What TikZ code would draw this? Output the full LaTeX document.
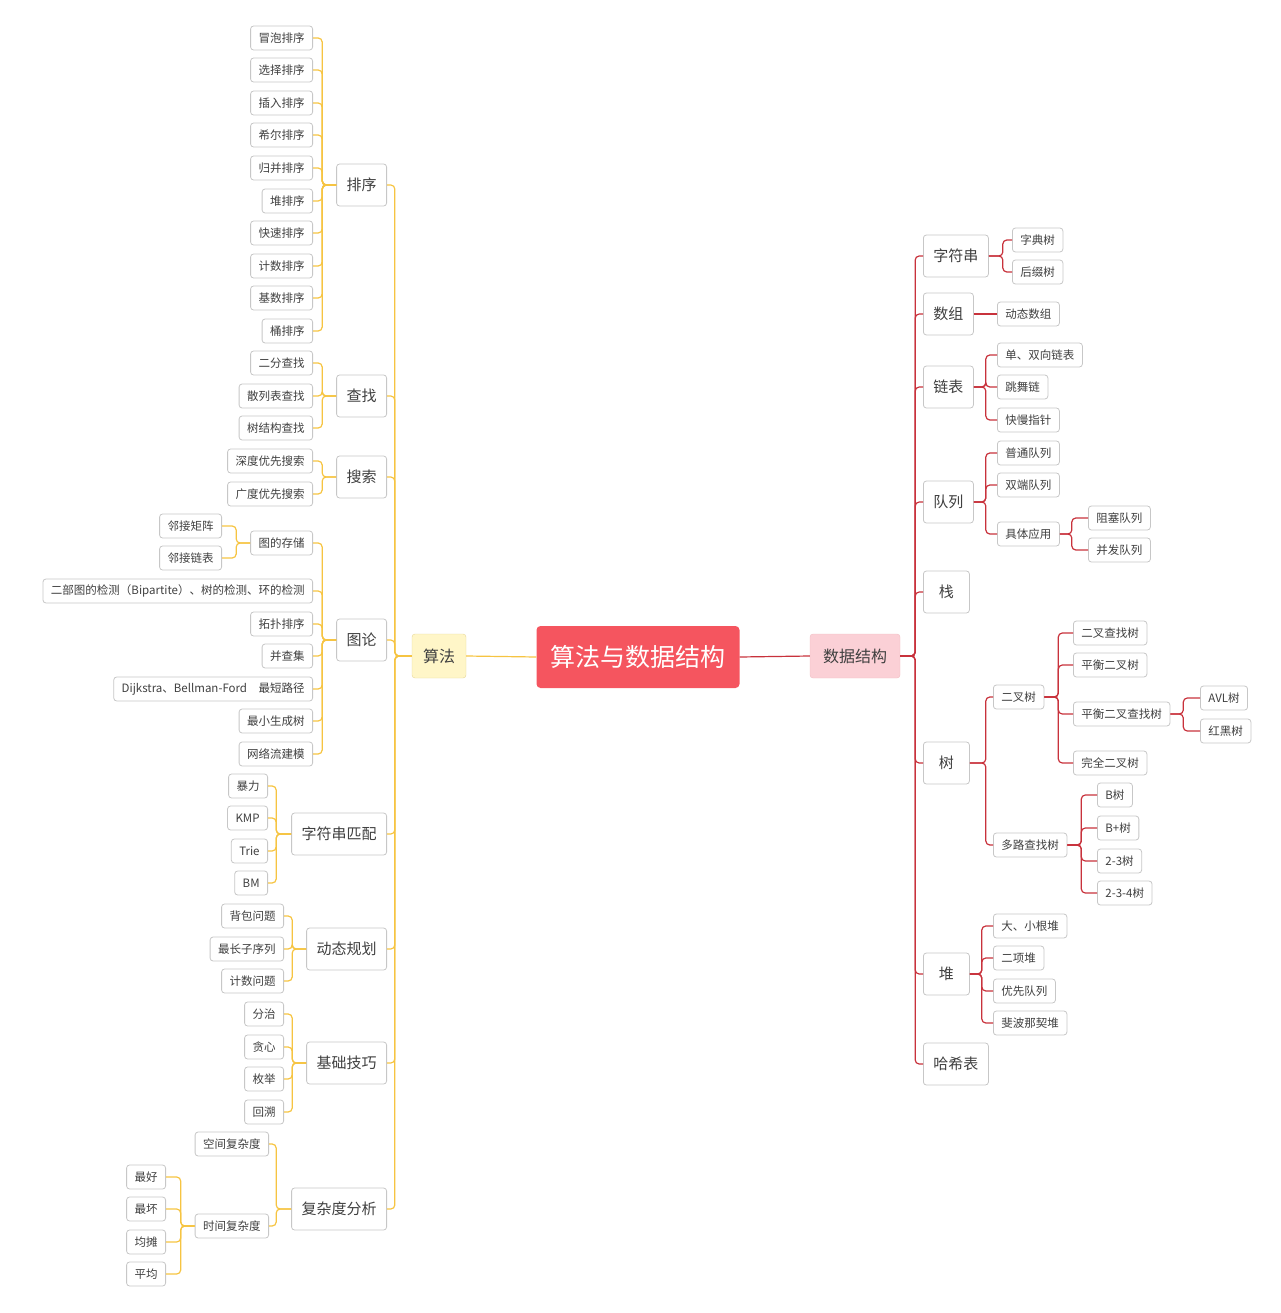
\documentclass[tikz,border=0pt]{standalone}
\usepackage{fontspec}
\setmainfont{Noto Sans CJK SC}
\begin{document}
\begin{tikzpicture}[x=1pt,y=-1pt,
  leaf/.style={draw=black!22,fill=white,rounded corners=3pt,line width=0.8pt,font=\fontsize{11.5}{12}\selectfont,text=black!75,inner xsep=8pt,inner ysep=0pt,minimum height=24pt},
  lone/.style={draw=black!22,fill=white,rounded corners=3pt,line width=0.8pt,font=\fontsize{15}{16}\selectfont,text=black!75,inner xsep=10pt,inner ysep=0pt,minimum height=42pt,minimum width=46pt},
  yl/.style={draw={rgb,255:red,246;green,196;blue,66},line width=1.2pt,rounded corners=4pt},
  rd/.style={draw={rgb,255:red,200;green,50;blue,60},line width=1.2pt,rounded corners=4pt}]
\useasboundingbox (0,0) rectangle (1280,1313);
% center
\node[fill={rgb,255:red,245;green,85;blue,95},rounded corners=4pt,text=white,font=\fontsize{25}{26}\selectfont,minimum width=203pt,minimum height=62pt] (root) at (638,657) {算法与数据结构};
\node[draw={rgb,255:red,230;green,215;blue,150},fill={rgb,255:red,255;green,246;blue,200},rounded corners=3pt,font=\fontsize{16}{17}\selectfont,text=black!75,minimum width=54pt,minimum height=44pt] (alg) at (439,656) {算法};
\node[draw={rgb,255:red,240;green,190;blue,195},fill={rgb,255:red,251;green,208;blue,214},rounded corners=3pt,font=\fontsize{16}{17}\selectfont,text=black!75,minimum width=90pt,minimum height=44pt] (ds) at (855,656) {数据结构};
\draw[yl] (alg.east) -- (root.west);
\draw[rd] (root.east) -- (ds.west);
% left level 1
\node[lone,anchor=east] (px) at (387,185) {排序};
\node[lone,anchor=east] (cz) at (387,396) {查找};
\node[lone,anchor=east] (ss) at (387,477) {搜索};
\node[lone,anchor=east] (tl) at (387,640) {图论};
\node[lone,anchor=east] (zf) at (387,834) {字符串匹配};
\node[lone,anchor=east] (dt) at (387,949) {动态规划};
\node[lone,anchor=east] (jc) at (387,1063) {基础技巧};
\node[lone,anchor=east] (fz) at (387,1209) {复杂度分析};
\foreach \c in {px,cz,ss,tl,zf,dt,jc,fz} \draw[yl] (alg.west) -- ++(-17,0) |- (\c.east);
% 排序
\foreach \n/\y/\t in {a1/38/冒泡排序,a2/70/选择排序,a3/103/插入排序,a4/135/希尔排序,a5/168/归并排序,a6/201/堆排序,a7/233/快速排序,a8/266/计数排序,a9/298/基数排序,a10/331/桶排序}
  {\node[leaf,anchor=east] (\n) at (313,\y) {\t}; \draw[yl] (px.west) -- ++(-14,0) |- (\n.east);}
\foreach \n/\y/\t in {b1/363/二分查找,b2/396/散列表查找,b3/428/树结构查找}
  {\node[leaf,anchor=east] (\n) at (313,\y) {\t}; \draw[yl] (cz.west) -- ++(-14,0) |- (\n.east);}
\foreach \n/\y/\t in {c1/461/深度优先搜索,c2/494/广度优先搜索}
  {\node[leaf,anchor=east] (\n) at (313,\y) {\t}; \draw[yl] (ss.west) -- ++(-14,0) |- (\n.east);}
\foreach \n/\y/\t in {d1/543/图的存储,d2/591/二部图的检测（Bipartite）、树的检测、环的检测,d3/624/拓扑排序,d4/656/并查集,d5/689/Dijkstra、Bellman-Ford\quad 最短路径,d6/721/最小生成树,d7/754/网络流建模}
  {\node[leaf,anchor=east] (\n) at (313,\y) {\t}; \draw[yl] (tl.west) -- ++(-14,0) |- (\n.east);}
\foreach \n/\y/\t in {e1/526/邻接矩阵,e2/558/邻接链表}
  {\node[leaf,anchor=east] (\n) at (222,\y) {\t}; \draw[yl] (d1.west) -- ++(-14,0) |- (\n.east);}
\foreach \n/\y/\t in {f1/786/暴力,f2/818/KMP,f3/851/Trie,f4/883/BM}
  {\node[leaf,anchor=east] (\n) at (268,\y) {\t}; \draw[yl] (zf.west) -- ++(-15,0) |- (\n.east);}
\foreach \n/\y/\t in {g1/916/背包问题,g2/949/最长子序列,g3/981/计数问题}
  {\node[leaf,anchor=east] (\n) at (284,\y) {\t}; \draw[yl] (dt.west) -- ++(-14,0) |- (\n.east);}
\foreach \n/\y/\t in {h1/1014/分治,h2/1047/贪心,h3/1079/枚举,h4/1112/回溯}
  {\node[leaf,anchor=east] (\n) at (284,\y) {\t}; \draw[yl] (jc.west) -- ++(-14,0) |- (\n.east);}
\foreach \n/\y/\t in {i1/1144/空间复杂度,i2/1226/时间复杂度}
  {\node[leaf,anchor=east] (\n) at (269,\y) {\t}; \draw[yl] (fz.west) -- ++(-15,0) |- (\n.east);}
\foreach \n/\y/\t in {j1/1177/最好,j2/1209/最坏,j3/1242/均摊,j4/1274/平均}
  {\node[leaf,anchor=east] (\n) at (166,\y) {\t}; \draw[yl] (i2.west) -- ++(-14,0) |- (\n.east);}
% right level 1
\node[lone,anchor=west] (zc) at (923,256) {字符串};
\node[lone,anchor=west] (sz) at (923,314) {数组};
\node[lone,anchor=west] (lb) at (923,387) {链表};
\node[lone,anchor=west] (dl) at (923,502) {队列};
\node[lone,anchor=west] (zh) at (923,592) {栈};
\node[lone,anchor=west] (sh) at (923,763) {树};
\node[lone,anchor=west] (du) at (923,974) {堆};
\node[lone,anchor=west] (hx) at (923,1064) {哈希表};
\foreach \c in {zc,sz,lb,dl,zh,sh,du,hx} \draw[rd] (ds.east) -- ++(15,0) |- (\c.west);
\foreach \n/\y/\t in {k1/240/字典树,k2/272/后缀树}
  {\node[leaf,anchor=west] (\n) at (1012,\y) {\t}; \draw[rd] (zc.east) -- ++(14,0) |- (\n.west);}
\node[leaf,anchor=west] (l1) at (997,314) {动态数组}; \draw[rd] (sz.east) -- (l1.west);
\foreach \n/\y/\t in {m1/355/单、双向链表,m2/387/跳舞链,m3/420/快慢指针}
  {\node[leaf,anchor=west] (\n) at (997,\y) {\t}; \draw[rd] (lb.east) -- ++(12,0) |- (\n.west);}
\foreach \n/\y/\t in {n1/453/普通队列,n2/485/双端队列,n3/534/具体应用}
  {\node[leaf,anchor=west] (\n) at (997,\y) {\t}; \draw[rd] (dl.east) -- ++(12,0) |- (\n.west);}
\foreach \n/\y/\t in {o1/518/阻塞队列,o2/550/并发队列}
  {\node[leaf,anchor=west] (\n) at (1088,\y) {\t}; \draw[rd] (n3.east) -- ++(12,0) |- (\n.west);}
\foreach \n/\y/\t in {p1/697/二叉树,p2/845/多路查找树}
  {\node[leaf,anchor=west] (\n) at (993,\y) {\t}; \draw[rd] (sh.east) -- ++(16,0) |- (\n.west);}
\foreach \n/\y/\t in {q1/633/二叉查找树,q2/665/平衡二叉树,q3/714/平衡二叉查找树,q4/763/完全二叉树}
  {\node[leaf,anchor=west] (\n) at (1073,\y) {\t}; \draw[rd] (p1.east) -- ++(14,0) |- (\n.west);}
\foreach \n/\y/\t in {r1/698/AVL树,r2/731/红黑树}
  {\node[leaf,anchor=west] (\n) at (1200,\y) {\t}; \draw[rd] (q3.east) -- ++(13,0) |- (\n.west);}
\foreach \n/\y/\t in {s1/795/B树,s2/828/B+树,s3/861/2-3树,s4/893/2-3-4树}
  {\node[leaf,anchor=west] (\n) at (1097,\y) {\t}; \draw[rd] (p2.east) -- ++(14,0) |- (\n.west);}
\foreach \n/\y/\t in {t1/926/大、小根堆,t2/958/二项堆,t3/991/优先队列,t4/1023/斐波那契堆}
  {\node[leaf,anchor=west] (\n) at (993,\y) {\t}; \draw[rd] (du.east) -- ++(12,0) |- (\n.west);}
\end{tikzpicture}
\end{document}
